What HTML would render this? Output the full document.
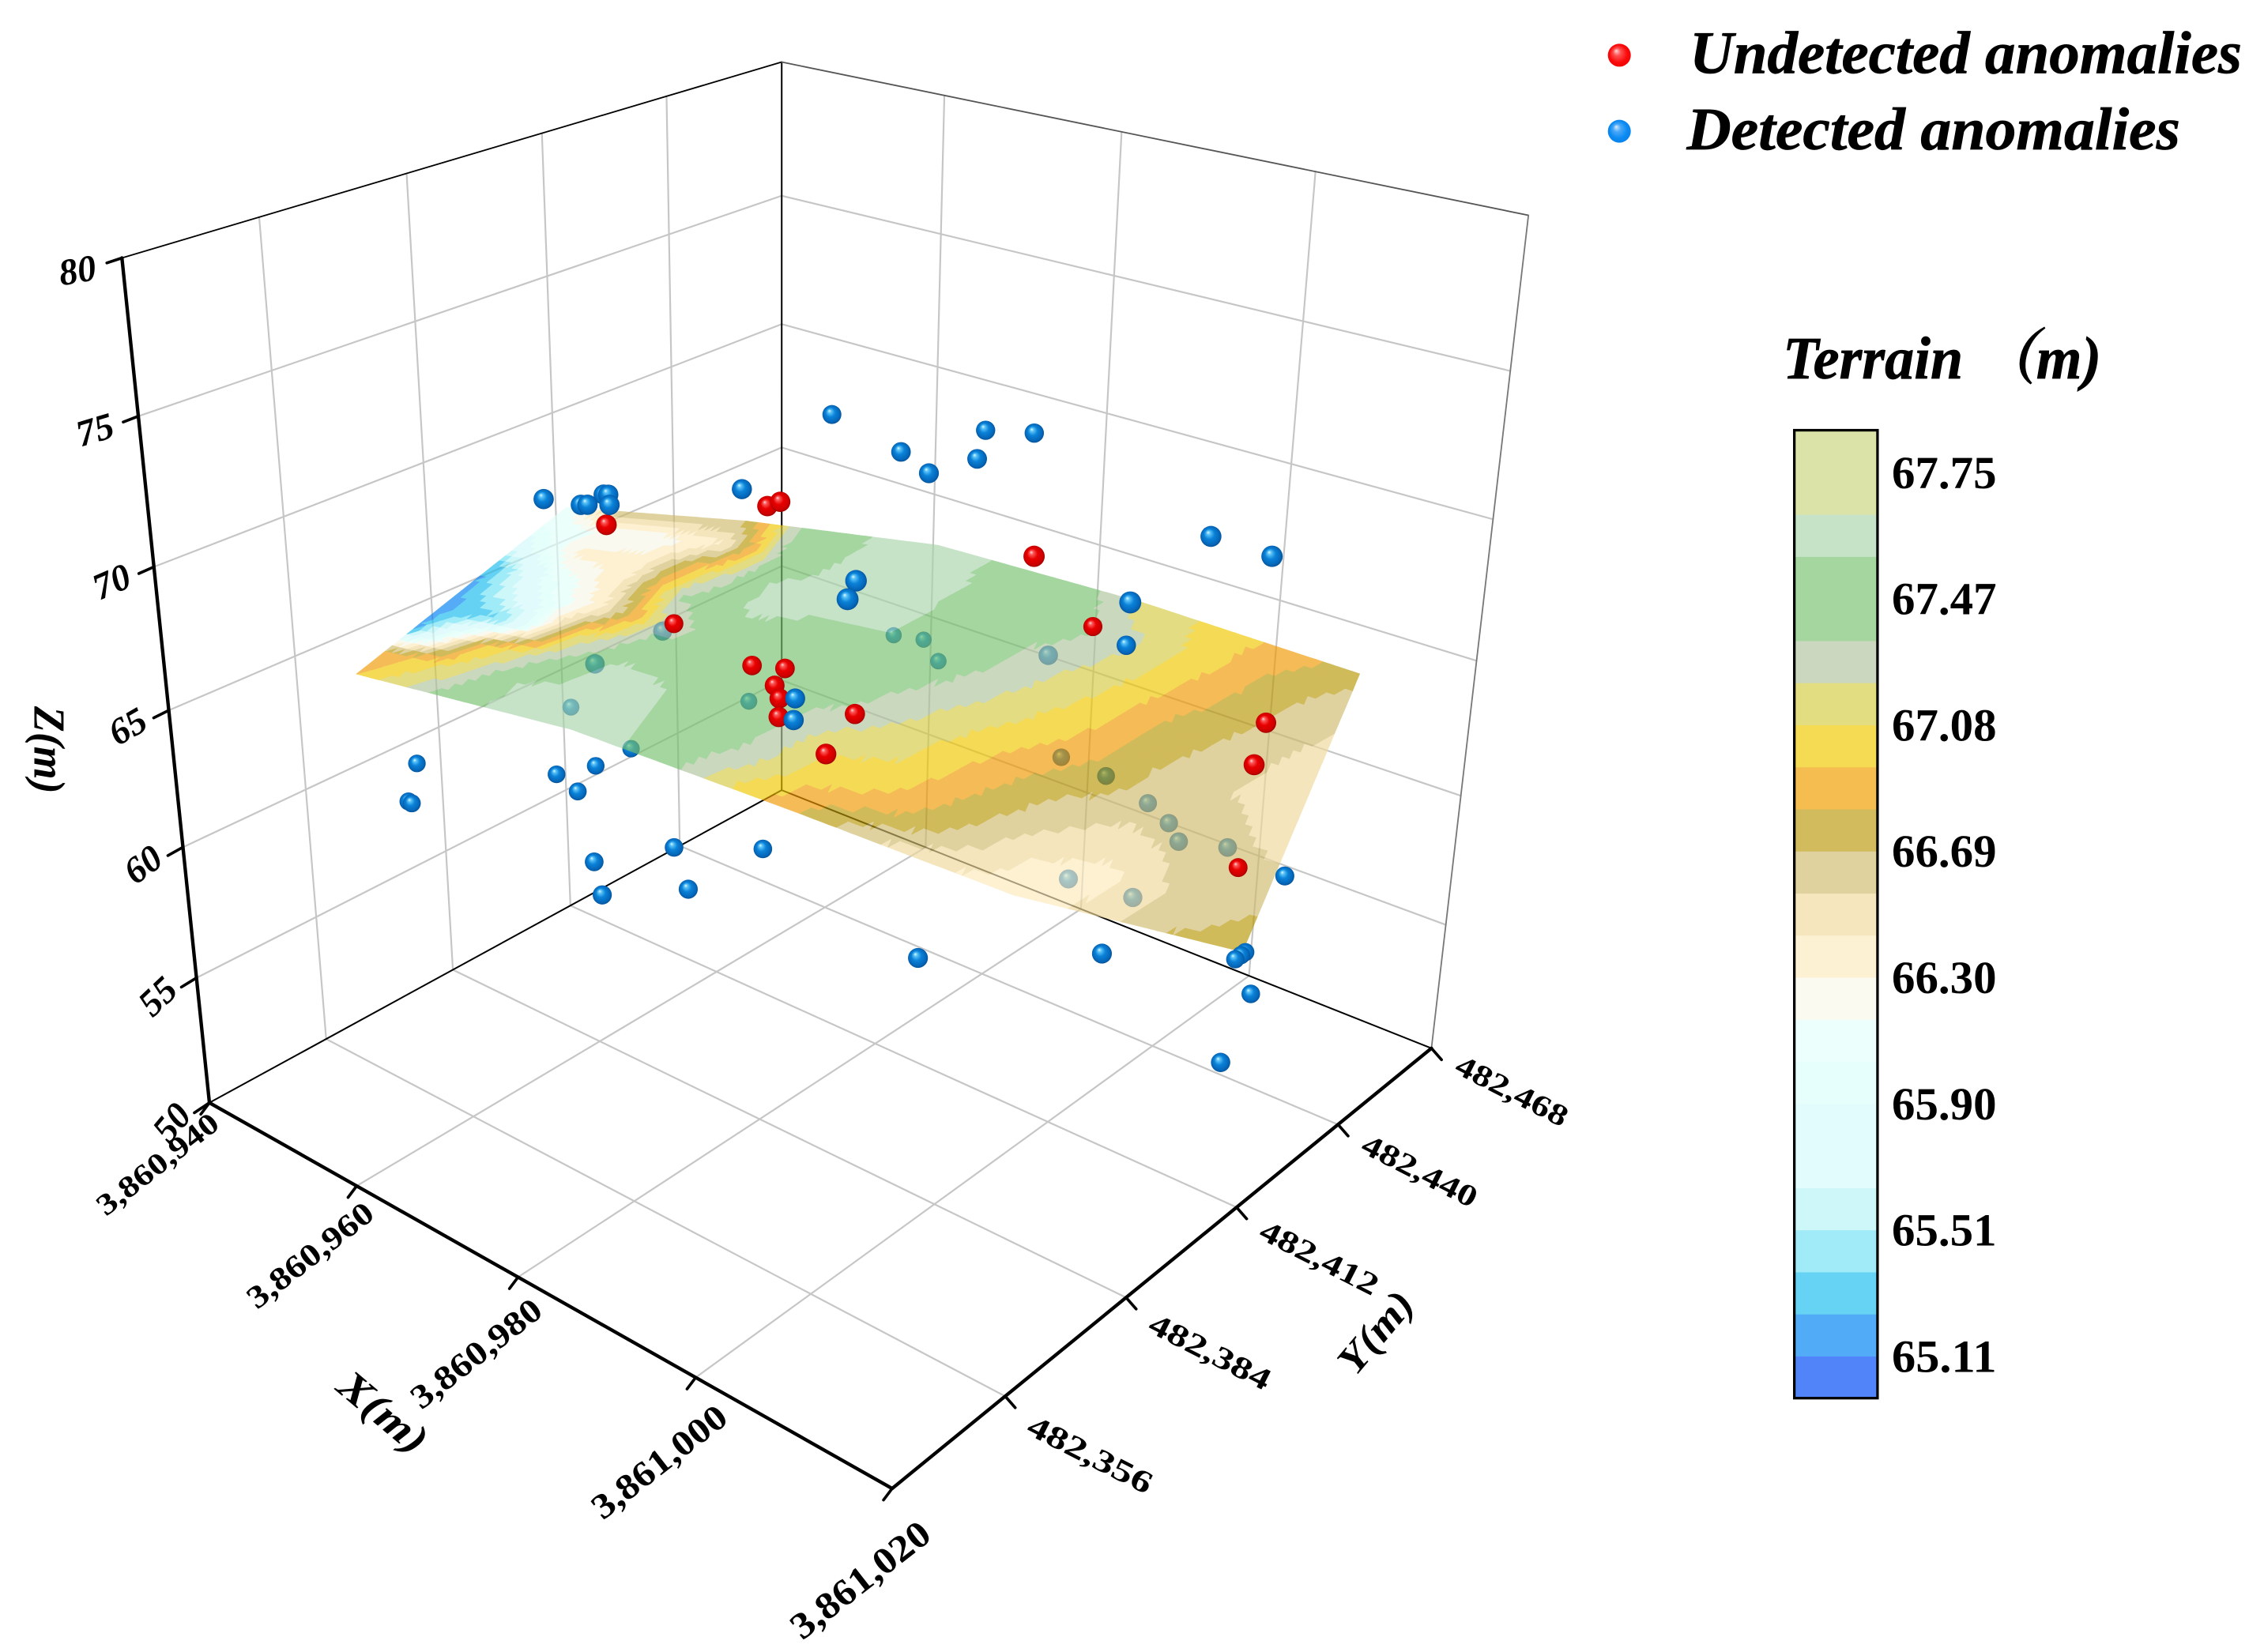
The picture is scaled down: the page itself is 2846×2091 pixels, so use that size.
<!DOCTYPE html>
<html lang="en">
<head>
<meta charset="utf-8">
<title>Terrain surface and anomalies</title>
<style>
html,body{margin:0;padding:0;background:#fff}
svg{display:block}
text{font-family:"Liberation Serif","Noto Serif CJK SC","Noto Sans CJK SC",serif;font-weight:bold;fill:#000}
</style>
</head>
<body>
<svg id="chart" xmlns="http://www.w3.org/2000/svg" width="2846" height="2091" viewBox="0 0 1568 1152">
<defs>
<radialGradient id="ballBlue" cx="0.5" cy="0.5" r="0.55" fx="0.36" fy="0.3">
<stop offset="0" stop-color="#e8fbff"/><stop offset="0.16" stop-color="#5cc4f8"/><stop offset="0.45" stop-color="#0a82d8"/><stop offset="0.8" stop-color="#0566b8"/><stop offset="1" stop-color="#034a8c"/>
</radialGradient>
<radialGradient id="ballRed" cx="0.5" cy="0.5" r="0.55" fx="0.36" fy="0.3">
<stop offset="0" stop-color="#ffe2e2"/><stop offset="0.16" stop-color="#fb5a5a"/><stop offset="0.45" stop-color="#e80000"/><stop offset="0.8" stop-color="#cc0000"/><stop offset="1" stop-color="#8e0000"/>
</radialGradient>
<radialGradient id="legendBlue" cx="0.5" cy="0.5" r="0.55" fx="0.36" fy="0.3">
<stop offset="0" stop-color="#d8ecff"/><stop offset="0.3" stop-color="#4aa8f8"/><stop offset="0.7" stop-color="#0a8af2"/><stop offset="1" stop-color="#0a80ea"/>
</radialGradient>
<radialGradient id="legendRed" cx="0.5" cy="0.5" r="0.55" fx="0.36" fy="0.3">
<stop offset="0" stop-color="#ffd8d8"/><stop offset="0.3" stop-color="#ff5050"/><stop offset="0.7" stop-color="#fa0a0a"/><stop offset="1" stop-color="#f00000"/>
</radialGradient>
</defs>
<g id="walls"></g>
<g id="hidden"></g>
<g id="surface" opacity="0.66"></g>
<g id="front"></g>
<g id="axes"></g>

<text x="267" y="985" text-anchor="middle" dominant-baseline="central" font-style="italic" font-size="29" textLength="72" lengthAdjust="spacingAndGlyphs" transform="rotate(40 267 985)">X(m)</text>
<text x="959" y="929" text-anchor="middle" dominant-baseline="central" font-style="italic" font-size="28" textLength="66" lengthAdjust="spacingAndGlyphs" transform="rotate(-50 959 929)">Y(m)</text>
<text x="34" y="523" text-anchor="middle" dominant-baseline="central" font-style="italic" font-size="31" textLength="61" lengthAdjust="spacingAndGlyphs" transform="rotate(90 34 523)">Z(m)</text>

<g>
<circle cx="1129" cy="38.5" r="8" fill="url(#legendRed)"/>
<text x="1178" y="51" font-style="italic" font-size="42" textLength="385" lengthAdjust="spacingAndGlyphs" stroke="#000" stroke-width="0.4">Undetected anomalies</text>
<circle cx="1129" cy="91.5" r="8" fill="url(#legendBlue)"/>
<text x="1176" y="104" font-style="italic" font-size="42" textLength="344" lengthAdjust="spacingAndGlyphs" stroke="#000" stroke-width="0.4">Detected anomalies</text>
</g>

<text x="1243" y="264" font-style="italic" font-size="42" textLength="222" lengthAdjust="spacingAndGlyphs" stroke="#000" stroke-width="0.4">Terrain （m)</text>
<g id="colorbar"></g>
</svg>

<script>
/* ---------- axis ranges and ticks ---------- */
var xRange = [3860940, 3861020];
var yRange = [482332, 482468];
var zRange = [50, 80];
var xTicks = [3860940, 3860960, 3860980, 3861000, 3861020];
var yTicks = [482356, 482384, 482412, 482440, 482468];
var zTicks = [50, 55, 60, 65, 70, 75, 80];
var xTickLabels = ["3,860,940", "3,860,960", "3,860,980", "3,861,000", "3,861,020"];
var yTickLabels = ["482,356", "482,384", "482,412", "482,440", "482,468"];
var zTickLabels = ["50", "55", "60", "65", "70", "75", "80"];

/* ---------- anomalies (metres) ---------- */
var undetectedX = [3860973.9, 3860981.2, 3860981.4, 3861003.8, 3860967.0, 3860995.2, 3860977.8, 3860980.3, 3860981.8, 3860983.7, 3860985.9, 3860990.3, 3860993.1, 3861016.7, 3861020.0, 3861009.6];
var undetectedY = [482364.8, 482383.8, 482386.1, 482393.2, 482390.4, 482429.2, 482387.0, 482389.3, 482384.1, 482381.4, 482376.9, 482384.4, 482372.5, 482418.6, 482406.9, 482434.5];
var undetectedZ = [72.5, 72.5, 72.5, 72.5, 66.5, 66.5, 66.5, 66.5, 66.5, 66.5, 66.5, 66.5, 66.5, 66.5, 66.5, 59];

var detectedX = [3860971.8, 3860982.0, 3860984.4, 3860988.0, 3860987.9, 3860986.8, 3860977.2, 3860966.2, 3860969.4, 3860969.8, 3860969.3, 3860969.6, 3860971.2, 3861012.1, 3861017.9, 3861014.5, 3860996.2, 3860997.9, 3860999.6, 3860984.7, 3860987.2, 3861013.5, 3860940.0, 3860951.6, 3860953.2, 3860955.5, 3860945.0, 3860945.5, 3860965.9, 3860969.5, 3860975.7, 3860970.5, 3860975.5, 3860997.8, 3861009.0, 3861007.6, 3861007.6, 3861007.6, 3861011.9, 3861016.0];
var detectedY = [482416.7, 482411.4, 482426.0, 482429.6, 482416.2, 482407.5, 482386.2, 482365.9, 482367.7, 482368.3, 482372.4, 482372.8, 482370.2, 482413.7, 482413.2, 482389.1, 482372.0, 482366.8, 482427.0, 482382.8, 482377.5, 482436.8, 482378.9, 482390.6, 482396.7, 482388.6, 482369.2, 482369.1, 482374.0, 482385.0, 482393.3, 482367.6, 482377.0, 482383.5, 482401.2, 482444.3, 482443.1, 482441.5, 482434.5, 482415.7];
var detectedZ = [72.5, 72.5, 72.5, 72.5, 72.5, 72.5, 72.5, 72.5, 72.5, 72.5, 72.5, 72.5, 72.5, 72.5, 72.5, 72.5, 72.5, 72.5, 66.5, 66.5, 66.5, 59, 59, 59, 59, 59, 59, 59, 59, 59, 59, 59, 59, 59, 59, 54.5, 54.5, 54.5, 54.5, 54.5];

var beneathX = [3860967.3, 3860967.4, 3860995.7, 3860942.7, 3860955.1, 3860953.3, 3860956.3, 3860959.3, 3860963.6, 3860985.4, 3860990.8, 3860996.8, 3861000.4, 3861003.0, 3861006.9, 3860999.5, 3861005.6];
var beneathY = [482387.4, 482372.9, 482417.0, 482409.3, 482429.9, 482404.7, 482465.6, 482467.5, 482462.3, 482446.7, 482446.0, 482442.7, 482439.4, 482435.5, 482438.7, 482415.5, 482417.1];
var beneathZ = [66.5, 66.5, 66.5, 59, 59, 59, 59, 59, 59, 59, 59, 59, 59, 59, 59, 59, 59];

/* ---------- terrain: survey-area corners (left, front, right, back) ---------- */
var surveyCornerX = [3860953.4, 3861020.0, 3861017.7, 3860941.2];
var surveyCornerY = [482348.5, 482407.8, 482440.3, 482412.4];
/* surface height, rows front to back */
var surfaceHeight = [
  [66.5, 65.3, 63.25, 61.1, 60.0],
  [66.5, 66.35, 65.6, 64.25, 63.25],
  [66.5, 67.4, 67.95, 67.4, 66.5]
];
/* terrain value shown by colour, rows front to back */
var terrainValue = [
  [66.96,67.36,67.69,67.74,67.56,67.12,66.83,66.57,66.43,66.34,66.47,66.70,66.74],
  [66.83,67.13,67.65,67.74,67.57,67.35,67.02,66.91,66.70,66.43,66.38,66.61,66.70],
  [65.18,66.90,67.33,67.74,67.56,67.44,67.15,67.07,66.83,66.61,66.49,66.62,66.62],
  [65.18,65.38,67.03,67.44,67.39,67.47,67.35,67.16,66.96,66.75,66.65,66.63,66.50],
  [65.18,65.84,66.37,67.23,67.49,67.49,67.47,67.28,67.10,66.91,66.70,66.57,66.47],
  [65.24,66.04,66.43,67.36,67.65,67.60,67.60,67.43,67.23,67.03,66.78,66.63,66.47],
  [65.77,66.34,66.36,67.03,67.62,67.68,67.68,67.49,67.32,67.16,66.90,66.71,66.54],
  [66.04,66.17,66.21,66.43,67.52,67.65,67.69,67.58,67.47,67.27,67.03,66.78,66.63],
  [66.04,66.70,66.70,66.70,67.43,67.62,67.62,67.62,67.49,67.16,67.07,66.91,66.74]
];

/* ---------- colour scale ---------- */
var levelColors = ["#5184f9","#52abf7","#66d2f4","#a0ebf7","#cef7f9","#e2fcfd","#e2fcfd","#e6fffc","#ecfffc","#fafaf0","#fdf1d3","#f5e6bd","#e0d29f","#d1bb5c","#f5bc4f","#f5da54","#e3dd82","#cbd8bf","#a5d6a0","#a5d6a0","#c6e3c8","#dce3a8","#dce3a8"];
var levelMin = 64.975;
var levelStep = 0.1322;
var colorbarLabels = ["65.11", "65.51", "65.90", "66.30", "66.69", "67.08", "67.47", "67.75"];

var NS = "http://www.w3.org/2000/svg";

function project(X, Y, Z) {
  var a = (X - xRange[0]) / (xRange[1] - xRange[0]);
  var b = (Y - yRange[0]) / (yRange[1] - yRange[0]);
  var c = (Z - zRange[0]) / (zRange[1] - zRange[0]);
  var x = 367.16 * a + 505.83 * b - 72.27 * c + 146;
  var y = 87.37 * a - 110.0 * b - 613 * c + 769;
  var w = -0.17498 * a + 0.19601 * b - 0.13261 * c + 1;
  return [x / w, y / w, w];
}
function make(tag, attrs, parent) {
  var el = document.createElementNS(NS, tag);
  for (var k in attrs) el.setAttribute(k, attrs[k]);
  parent.appendChild(el);
  return el;
}
function segment(p, q, stroke, width, parent) {
  return make("line", {x1: p[0], y1: p[1], x2: q[0], y2: q[1], stroke: stroke, "stroke-width": width, "stroke-linecap": "round"}, parent);
}

var walls = document.getElementById("walls");
var axes = document.getElementById("axes");
var xMin = xRange[0], xMax = xRange[1], yMin = yRange[0], yMax = yRange[1], zMin = zRange[0], zMax = zRange[1];
var GRID = "#c6c6c6";
var GRID_W = 1.2;

/* floor grid */
xTicks.slice(1, -1).forEach(function (t) {
  var el = segment(project(t, yMin, zMin), project(t, yMax, zMin), GRID, GRID_W, walls);
  
  
  var up = segment(project(t, yMax, zMin), project(t, yMax, zMax), GRID, GRID_W, walls);
  
  
});
yTicks.slice(0, -1).forEach(function (t) {
  var el = segment(project(xMin, t, zMin), project(xMax, t, zMin), GRID, GRID_W, walls);
  
  
  var up = segment(project(xMin, t, zMin), project(xMin, t, zMax), GRID, GRID_W, walls);
  
  
});
zTicks.slice(1, -1).forEach(function (t) {
  var el = segment(project(xMin, yMin, t), project(xMin, yMax, t), GRID, GRID_W, walls);
  
  
  var back = segment(project(xMin, yMax, t), project(xMax, yMax, t), GRID, GRID_W, walls);
  
  
});

/* box edges behind the surface */
var edgeA = segment(project(xMin, yMin, zMin), project(xMin, yMax, zMin), "#000", 1.1, walls);


var edgeB = segment(project(xMin, yMax, zMin), project(xMax, yMax, zMin), "#000", 1.1, walls);


var edgeC = segment(project(xMin, yMax, zMin), project(xMin, yMax, zMax), "#000", 1.1, walls);


var edgeD = segment(project(xMin, yMin, zMax), project(xMin, yMax, zMax), "#000", 1, walls);


var edgeE = segment(project(xMin, yMax, zMax), project(xMax, yMax, zMax), "#555", 1, walls);


var edgeF = segment(project(xMax, yMax, zMin), project(xMax, yMax, zMax), "#777", 1, walls);



/* markers */
function drawBalls(xs, ys, zs, fill, parent, name) {
  for (var i = 0; i < xs.length; i++) {
    var p = project(xs[i], ys[i], zs[i]);
    var ball = make("circle", {cx: p[0], cy: p[1], r: 6.3 / p[2], fill: fill}, parent);
    
    
  }
}
drawBalls(beneathX, beneathY, beneathZ, "url(#ballBlue)", document.getElementById("hidden"), "detected-anomaly-beneath-terrain");

/* terrain surface */
function bilinear(grid, s, t) {
  var rows = grid.length - 1, cols = grid[0].length - 1;
  var ft = t * rows, fs = s * cols;
  var r = Math.min(rows - 1, Math.floor(ft)), c = Math.min(cols - 1, Math.floor(fs));
  var dt = ft - r, ds = fs - c;
  return grid[r][c] * (1 - ds) * (1 - dt) + grid[r][c + 1] * ds * (1 - dt) + grid[r + 1][c] * (1 - ds) * dt + grid[r + 1][c + 1] * ds * dt;
}
function cornerBlend(corners, s, t) {
  return corners[0] * (1 - s) * (1 - t) + corners[1] * s * (1 - t) + corners[2] * s * t + corners[3] * (1 - s) * t;
}
function surfacePoint(s, t) {
  return project(cornerBlend(surveyCornerX, s, t), cornerBlend(surveyCornerY, s, t), bilinear(surfaceHeight, s, t));
}
var SURFACE_ALPHA = 0.66;
function strengthen(hex) {
  var out = "rgb(";
  for (var i = 0; i < 3; i++) {
    var v = parseInt(hex.substr(1 + i * 2, 2), 16);
    v = Math.max(0, Math.min(255, Math.round((v - 255 * (1 - SURFACE_ALPHA)) / SURFACE_ALPHA)));
    out += v + (i < 2 ? "," : ")");
  }
  return out;
}
var strongColors = levelColors.map(strengthen);
function levelColor(v) {
  var idx = Math.floor((v - levelMin) / levelStep);
  return strongColors[Math.max(0, Math.min(levelColors.length - 1, idx))];
}
var surfaceGroup = document.getElementById("surface");
function facet(s1, t1, s2, t2, s3, t3) {
  var a = surfacePoint(s1, t1), b = surfacePoint(s2, t2), c = surfacePoint(s3, t3);
  var col = levelColor(bilinear(terrainValue, (s1 + s2 + s3) / 3, (t1 + t2 + t3) / 3));
  var poly = make("polygon", {
    points: a[0].toFixed(1) + "," + a[1].toFixed(1) + " " + b[0].toFixed(1) + "," + b[1].toFixed(1) + " " + c[0].toFixed(1) + "," + c[1].toFixed(1),
    fill: col, stroke: col, "stroke-width": 0.5, "stroke-linejoin": "round"
  }, surfaceGroup);
  
  
}
var nS = (terrainValue[0].length - 1) * 10, nT = (terrainValue.length - 1) * 4;
for (var ti = 0; ti < nT; ti++) {
  for (var si = 0; si < nS; si++) {
    var s0 = si / nS, s1 = (si + 1) / nS, t0 = ti / nT, t1 = (ti + 1) / nT;
    facet(s0, t0, s1, t0, s1, t1);
    facet(s0, t0, s1, t1, s0, t1);
  }
}

var frontGroup = document.getElementById("front");
drawBalls(undetectedX, undetectedY, undetectedZ, "url(#ballRed)", frontGroup, "undetected-anomaly");
drawBalls(detectedX, detectedY, detectedZ, "url(#ballBlue)", frontGroup, "detected-anomaly");

/* main axes */
var axisX = segment(project(xMin, yMin, zMin), project(xMax, yMin, zMin), "#000", 2.4, axes);


var axisY = segment(project(xMax, yMin, zMin), project(xMax, yMax, zMin), "#000", 2.4, axes);


var axisZ = segment(project(xMin, yMin, zMin), project(xMin, yMin, zMax), "#000", 2.4, axes);



function label(txt, x, y, rot, size, len, parent, italic) {
  var attrs = {x: x, y: y, "text-anchor": "middle", "dominant-baseline": "central", "font-size": size, transform: "rotate(" + rot + " " + x + " " + y + ")"};
  if (len) { attrs.textLength = len; attrs.lengthAdjust = "spacingAndGlyphs"; }
  if (italic) attrs["font-style"] = "italic";
  var el = make("text", attrs, parent);
  el.textContent = txt;
  return el;
}

xTicks.forEach(function (t, i) {
  var p = project(t, yMin, zMin);
  var f = (t - xMin) / (xMax - xMin);
  var tick = segment(p, [p[0] - 6, p[1] + 8], "#000", 2, axes);
  
  
  var txt = label(xTickLabels[i], p[0] - 36 + 14 * f, p[1] + 43 + 21 * f, -38, 21 + 5 * f, 102 + 14 * f, axes, false);
  
  
});
yTicks.forEach(function (t, i) {
  var p = project(xMax, t, zMin);
  var f = (t - yMin) / (yMax - yMin);
  var tick = segment(p, [p[0] + 7, p[1] + 8], "#000", 2, axes);
  
  
  var txt = label(yTickLabels[i], p[0] + 60 - 4 * f, p[1] + 43 - 13 * f, 27, 22 - 1 * f, 97 - 12 * f, axes, false);
  
  
});
zTicks.forEach(function (t, i) {
  var p = project(xMin, yMin, t);
  var f = (t - zMin) / (zMax - zMin);
  var tick = segment(p, [p[0] - 10.5, p[1] + 3.5 + 3.5 * (1 - f)], "#000", 2, axes);
  
  
  var txt = label(zTickLabels[i], p[0] - 26 - 5 * f, p[1] + 14 - 5 * f, -10 - 40 * (1 - f), 26, null, axes, true);
  
  
});

/* colour bar: box spans 300 to 975, one band per level */
var cb = document.getElementById("colorbar");
var cbTop = 300, cbBottom = 975, cbLeft = 1251, cbRight = 1309;
var bandH = (cbBottom - cbTop) / levelColors.length;
levelColors.forEach(function (col, i) {
  var band = make("rect", {x: cbLeft, y: cbBottom - (i + 1) * bandH - 0.3, width: cbRight - cbLeft, height: bandH + 0.6, fill: col}, cb);
  
  
});
var cbBox = make("rect", {x: cbLeft, y: cbTop, width: cbRight - cbLeft, height: cbBottom - cbTop, fill: "none", stroke: "#000", "stroke-width": 1.8}, cb);


colorbarLabels.forEach(function (txt, i) {
  var el = make("text", {x: 1319, y: cbBottom - (i * 3 + 1) * bandH + 11, "font-size": 32, textLength: 73, lengthAdjust: "spacingAndGlyphs"}, cb);
  el.textContent = txt;
  
  
});
</script>
</body>
</html>
